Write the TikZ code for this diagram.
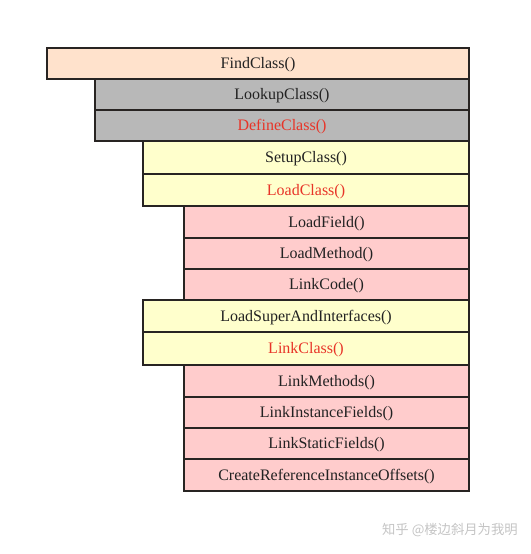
\documentclass[tikz,border=0pt]{standalone}
\usepackage{fontspec}
\setmainfont{Liberation Serif}
\newfontfamily\cjk{Noto Sans CJK SC}
\definecolor{peach}{RGB}{255,226,204}
\definecolor{grayfill}{RGB}{184,184,184}
\definecolor{yellowfill}{RGB}{255,255,204}
\definecolor{pinkfill}{RGB}{255,204,204}
\definecolor{edge}{RGB}{40,36,34}
\definecolor{txt}{RGB}{34,34,34}
\definecolor{redtxt}{RGB}{232,52,40}
\definecolor{wm}{RGB}{196,196,196}
\newcommand{\stackrow}[7]{%
  \node[rowbox, fill=#5, text=#6, minimum width={(469-#2)*0.75pt}, minimum height={(#4-#3)*0.75pt}]
    (#1) at ({(#2+469)/2},{(#3+#4)/2}) {#7};}
\begin{document}
\begin{tikzpicture}[x=0.75pt,y=-0.75pt,
  rowbox/.style={draw=edge, line width=1.4pt, inner sep=0pt, text height=9.6pt, text depth=2pt, font=\fontsize{12}{14}\selectfont}]
\useasboundingbox (0,0) rectangle (531,554);
\stackrow{r1}{47}{48}{79}{peach}{txt}{FindClass()}
\stackrow{r2}{95}{79}{110}{grayfill}{txt}{LookupClass()}
\stackrow{r3}{95}{110}{141}{grayfill}{redtxt}{DefineClass()}
\stackrow{r4}{143}{141}{174}{yellowfill}{txt}{SetupClass()}
\stackrow{r5}{143}{174}{206}{yellowfill}{redtxt}{LoadClass()}
\stackrow{r6}{184}{206}{238}{pinkfill}{txt}{LoadField()}
\stackrow{r7}{184}{238}{269}{pinkfill}{txt}{LoadMethod()}
\stackrow{r8}{184}{269}{300}{pinkfill}{txt}{LinkCode()}
\stackrow{r9}{143}{300}{332}{yellowfill}{txt}{LoadSuperAndInterfaces()}
\stackrow{r10}{143}{332}{365}{yellowfill}{redtxt}{LinkClass()}
\stackrow{r11}{184}{365}{397}{pinkfill}{txt}{LinkMethods()}
\stackrow{r12}{184}{397}{428}{pinkfill}{txt}{LinkInstanceFields()}
\stackrow{r13}{184}{428}{459}{pinkfill}{txt}{LinkStaticFields()}
\stackrow{r14}{184}{459}{491}{pinkfill}{txt}{CreateReferenceInstanceOffsets()}
\node[anchor=east, text=wm, inner sep=0pt, font=\cjk\fontsize{10}{12}\selectfont] (wmark) at (518,530) {知乎 @楼边斜月为我明};
\end{tikzpicture}
\end{document}
